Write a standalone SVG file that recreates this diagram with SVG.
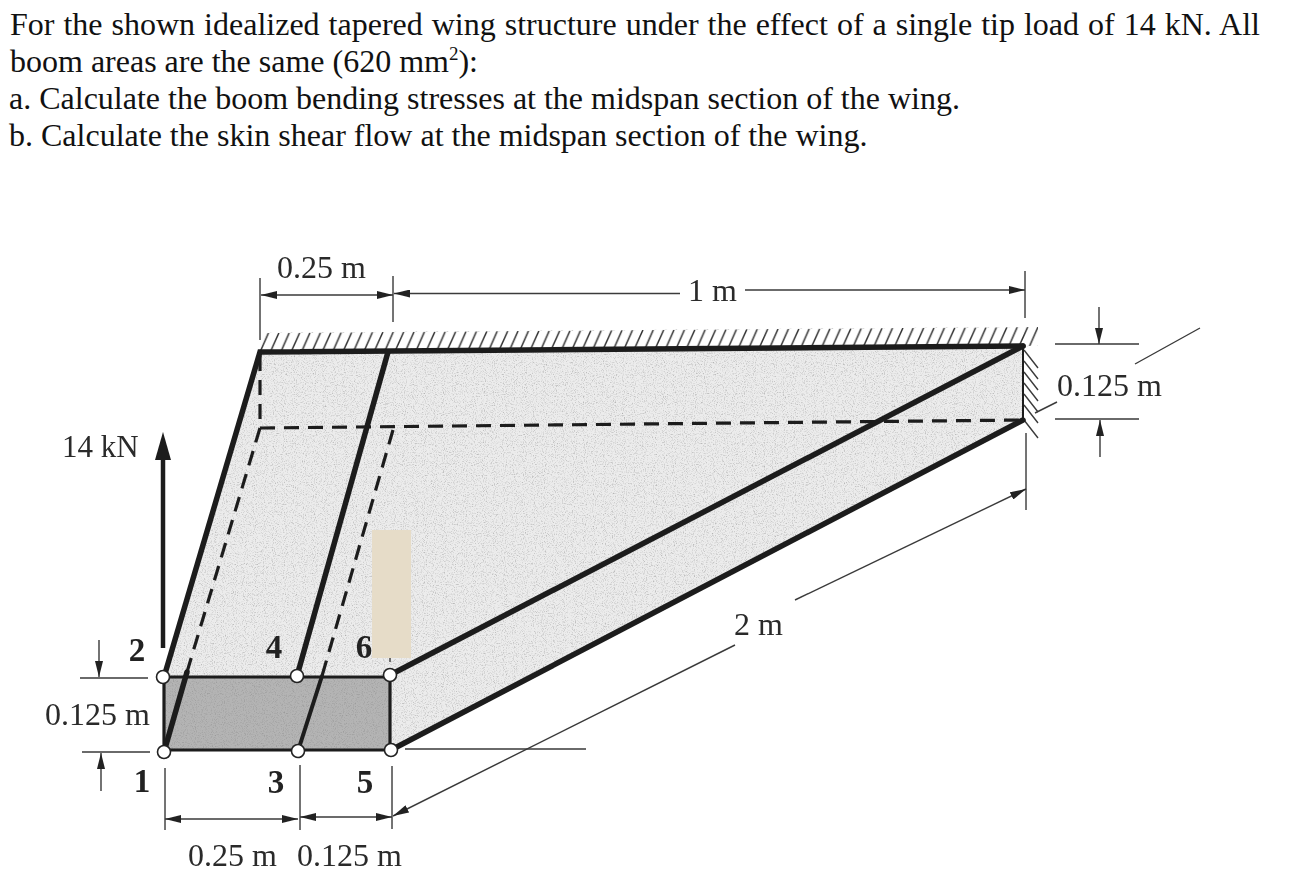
<svg xmlns="http://www.w3.org/2000/svg" width="1313" height="873" viewBox="0 0 1313 873">
<style>
text{font-family:"Liberation Serif","Times New Roman",serif;fill:#2a2a2a}
.q{font-size:32px;fill:#111}
.l{font-size:32px}
.b{font-size:33px;font-weight:bold;fill:#222}
.thick{fill:none;stroke:#1c1c1c;stroke-width:5.5;stroke-linecap:round}
.dash{fill:none;stroke:#1c1c1c;stroke-width:3.2;stroke-dasharray:15 9}
.thin{fill:none;stroke:#3a3a3a;stroke-width:1.4}
.edge{fill:none;stroke:#1c1c1c;stroke-width:3.2}
.boom{fill:#fff;stroke:#222;stroke-width:1.6}
</style>
<defs>
<marker id="a" viewBox="0 0 16 8" refX="16" refY="4" markerWidth="16" markerHeight="8" markerUnits="userSpaceOnUse" orient="auto-start-reverse"><path d="M0 0L16 4L0 8z" fill="#222"/></marker>
<pattern id="h" patternUnits="userSpaceOnUse" width="10.4" height="19"><path d="M0 19L8.500 0M10.400 19L18.900 0M-10.400 19L-1.900 0" stroke="#333" stroke-width="1.5" fill="none"/></pattern>
<filter id="g" x="0" y="0" width="1" height="1"><feTurbulence type="fractalNoise" baseFrequency="0.9" numOctaves="2" seed="4" result="n"/><feColorMatrix in="n" type="matrix" values="0 0 0 0 0.25 0 0 0 0 0.25 0 0 0 0 0.25 1.6 0 0 0 -0.78"/><feComposite in2="SourceAlpha" operator="in" result="s"/><feMerge><feMergeNode in="SourceGraphic"/><feMergeNode in="s"/></feMerge></filter>
<filter id="soft" x="-2%" y="-2%" width="104%" height="104%"><feGaussianBlur stdDeviation="0.45"/></filter>
</defs>
<rect width="1313" height="873" fill="#fff"/>
<g id="question">
<text class="q" x="10" y="35" word-spacing="1">For the shown idealized tapered wing structure under the effect of a single tip load of 14 kN. All</text>
<text class="q" x="10" y="72">boom areas are the same (620 mm<tspan font-size="19" dy="-12">2</tspan><tspan dy="12">):</tspan></text>
<text class="q" x="9" y="109">a. Calculate the boom bending stresses at the midspan section of the wing.</text>
<text class="q" x="9" y="146">b. Calculate the skin shear flow at the midspan section of the wing.</text>
</g>
<g id="wing-skin">
<polygon points="163,677 260,352 1023,346 1023,420 391,750 390,675" fill="#ececec" filter="url(#g)"/>
<rect x="164" y="677" width="227" height="74" fill="#b4b4b4" filter="url(#g)"/>
</g>
<g id="walls" filter="url(#soft)">
<rect x="0" y="-19" width="778" height="19" fill="url(#h)" transform="translate(260 352) skewY(-0.45)"/>
<path class="thin" d="M1024 350L1038 368M1024 361L1038 379M1024 372L1038 390M1024 383L1038 401M1024 394L1038 412M1024 405L1038 423M1024 420L1038 438"/>
</g>
<g id="connectors" filter="url(#soft)">
<path class="dash" d="M260 356L260 428L1023 420"/>
<path class="dash" d="M260 428L187 672"/>
<path class="dash" d="M393 430L322 676"/>
<path class="thick" d="M164 677L260 352L1023 346"/>
<path class="thick" d="M297 676L388 352"/>
<path class="thick" d="M390 675L1023 346"/>
<path class="thick" d="M391 750L1023 420"/>
<path class="thick" d="M164 752L187 672"/>
<path class="thick" stroke-width="4" style="stroke-width:4" d="M298 751L322 676"/>
<path class="edge" d="M164 677H390V750H164Z"/>
<path class="edge" style="stroke-width:2" d="M1023 346V420"/>
<path class="thin" d="M260 278V340M393 276V322M1025 271V318M165 768V830M300 765V830M392 766V829M1026 433V510M390 658V662"/>
<path class="thin" marker-start="url(#a)" marker-end="url(#a)" d="M261 295H393"/>
<path class="thin" marker-start="url(#a)" d="M394 293.500H680"/>
<path class="thin" marker-end="url(#a)" d="M745 290H1025"/>
<path class="thin" marker-start="url(#a)" marker-end="url(#a)" d="M165 819H298"/>
<path class="thin" marker-start="url(#a)" marker-end="url(#a)" d="M300 817H392"/>
<path class="thin" marker-start="url(#a)" d="M393 816L735 645"/>
<path class="thin" marker-end="url(#a)" d="M795 600L1026 489"/>
<path class="thin" d="M80 678H148M82 752H150M1055 344H1139M1055 419H1139M1135 364L1200 328M1035 413L1057 402M405 749H586"/>
<path class="thin" marker-end="url(#a)" d="M99 640V677"/>
<path class="thin" marker-end="url(#a)" d="M101 791V753"/>
<path class="thin" marker-end="url(#a)" d="M1099 307V344"/>
<path class="thin" marker-end="url(#a)" d="M1100 457V420"/>
<path d="M163 648V458" fill="none" stroke="#1c1c1c" stroke-width="4.5"/>
<path d="M163 432L171 460H155z" fill="#1c1c1c"/>
</g>
<g id="node-1"><circle class="boom" cx="164" cy="752" r="6.500"/><text class="b" x="142" y="792" text-anchor="middle">1</text></g>
<g id="node-2"><circle class="boom" cx="163" cy="677" r="6.500"/><text class="b" x="137" y="661" text-anchor="middle">2</text></g>
<g id="node-3"><circle class="boom" cx="298" cy="751" r="6.500"/><text class="b" x="276" y="793" text-anchor="middle">3</text></g>
<g id="node-4"><circle class="boom" cx="297" cy="676" r="6.500"/><text class="b" x="274" y="658" text-anchor="middle">4</text></g>
<g id="node-5"><circle class="boom" cx="391" cy="750" r="6.500"/><text class="b" x="365" y="793" text-anchor="middle">5</text></g>
<g id="node-6"><circle class="boom" cx="390" cy="675" r="6.500"/><text class="b" x="364" y="658" text-anchor="middle">6</text></g>
<g id="patch"><rect x="372" y="530" width="39" height="128" fill="#e6dcc8"/></g>
<g id="labels">
<text class="l" x="277" y="278">0.25 m</text>
<text class="l" x="688" y="301">1 m</text>
<text class="l" x="1057" y="396">0.125 m</text>
<text class="l" x="62" y="457" style="font-size:31px">14 kN</text>
<text class="l" x="45" y="725">0.125 m</text>
<text class="l" x="734" y="635">2 m</text>
<text class="l" x="188" y="866">0.25 m</text>
<text class="l" x="297" y="866">0.125 m</text>
</g>
</svg>
